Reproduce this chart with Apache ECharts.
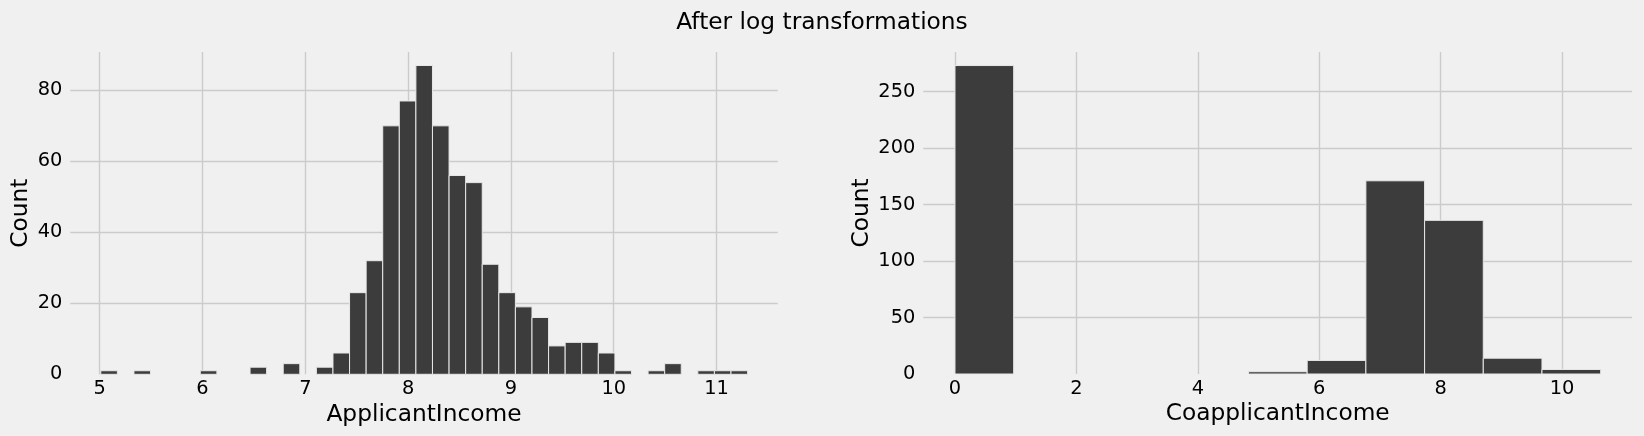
<!DOCTYPE html>
<html>
<head>
<meta charset="utf-8">
<script src="https://cdn.jsdelivr.net/npm/echarts@6/dist/echarts.min.js"></script>
<style>
html,body{margin:0;padding:0;background:#f0f0f0;}
#chart{width:1644px;height:436px;}
</style>
</head>
<body>
<div id="chart"></div>
<script>
// ---- data ----
const titleText = 'After log transformations';
const leftXLabel = 'ApplicantIncome';
const rightXLabel = 'CoapplicantIncome';
const yLabel = 'Count';

// ApplicantIncome (log) histogram: 39 bins
const appBinStart = 5.0106;
const appBinWidth = 0.16132;
const appCounts = [1,0,1,0,0,0,1,0,0,2,0,3,0,2,6,23,32,70,77,87,70,56,54,31,23,19,16,8,9,9,6,1,0,1,3,0,1,1,1];

// CoapplicantIncome (log) histogram: 11 bins
const coBinStart = 0;
const coBinWidth = 0.967;
const coCounts = [273,0,0,0,0,2,12,171,136,14,4];

// axis ranges
const appXRange = [4.714, 11.595];
const appYRange = [0, 90.8];
const coXRange = [-0.522, 11.153];
const coYRange = [0, 285];

function binsToData(start, width, counts){
  return counts.map((c, i) => [start + i*width, start + (i+1)*width, c]);
}

const FONT = 'DejaVu Sans';
const GRID_COLOR = '#cbcbcb';

function renderHist(params, api){
  const x0 = api.value(0), x1 = api.value(1), c = api.value(2);
  if (!c) return null;
  const p0 = api.coord([x0, c]);
  const p1 = api.coord([x1, 0]);
  return {
    type: 'rect',
    shape: {x: p0[0], y: p0[1], width: p1[0]-p0[0], height: p1[1]-p0[1]},
    style: {fill: '#3c3c3c', stroke: '#e8e8e8', lineWidth: 1}
  };
}

function xAxisCfg(idx, range, name, splitNumber){
  return {
    type: 'value', gridIndex: idx, min: range[0], max: range[1], splitNumber: splitNumber,
    name: name, nameLocation: 'middle', nameGap: 26,
    nameTextStyle: {fontFamily: FONT, fontSize: 23.3, color: '#000'},
    axisLine: {show: false}, axisTick: {show: false},
    axisLabel: {fontFamily: FONT, fontSize: 19.4, color: '#000', margin: 5,
      showMinLabel: false, showMaxLabel: false,
      formatter: v => (Math.abs(v - Math.round(v)) < 1e-6 ? String(Math.round(v)) : '')},
    splitLine: {show: true, showMinLine: false, showMaxLine: false, lineStyle: {color: GRID_COLOR, width: 1.4}}
  };
}
function yAxisCfg(idx, range, interval, gap){
  return {
    type: 'value', gridIndex: idx, min: range[0], max: range[1], interval: interval,
    name: yLabel, nameLocation: 'middle', nameGap: gap,
    nameTextStyle: {fontFamily: FONT, fontSize: 23.3, color: '#000'},
    axisLine: {show: false}, axisTick: {show: false},
    axisLabel: {fontFamily: FONT, fontSize: 19.4, color: '#000', margin: 8, showMaxLabel: false},
    splitLine: {show: true, showMinLine: false, showMaxLine: false, lineStyle: {color: GRID_COLOR, width: 1.4}}
  };
}

const chart = echarts.init(document.getElementById('chart'), null, {renderer: 'canvas'});
chart.setOption({
  backgroundColor: '#f0f0f0',
  animation: false,
  title: {text: titleText, left: 'center', top: 6,
    textStyle: {fontFamily: FONT, fontSize: 23.3, fontWeight: 'normal', color: '#000'}},
  grid: [
    {left: 70.3, top: 52, width: 707.4, height: 322.3},
    {left: 923.3, top: 52, width: 708.7, height: 322}
  ],
  xAxis: [
    xAxisCfg(0, appXRange, leftXLabel, 7),
    xAxisCfg(1, coXRange, rightXLabel, 6)
  ],
  yAxis: [
    yAxisCfg(0, appYRange, 20, 38),
    yAxisCfg(1, coYRange, 50, 50)
  ],
  series: [
    {type: 'custom', xAxisIndex: 0, yAxisIndex: 0, renderItem: renderHist,
     encode: {x: [0,1], y: 2}, data: binsToData(appBinStart, appBinWidth, appCounts)},
    {type: 'custom', xAxisIndex: 1, yAxisIndex: 1, renderItem: renderHist,
     encode: {x: [0,1], y: 2}, data: binsToData(coBinStart, coBinWidth, coCounts)}
  ]
});
</script>
</body>
</html>
